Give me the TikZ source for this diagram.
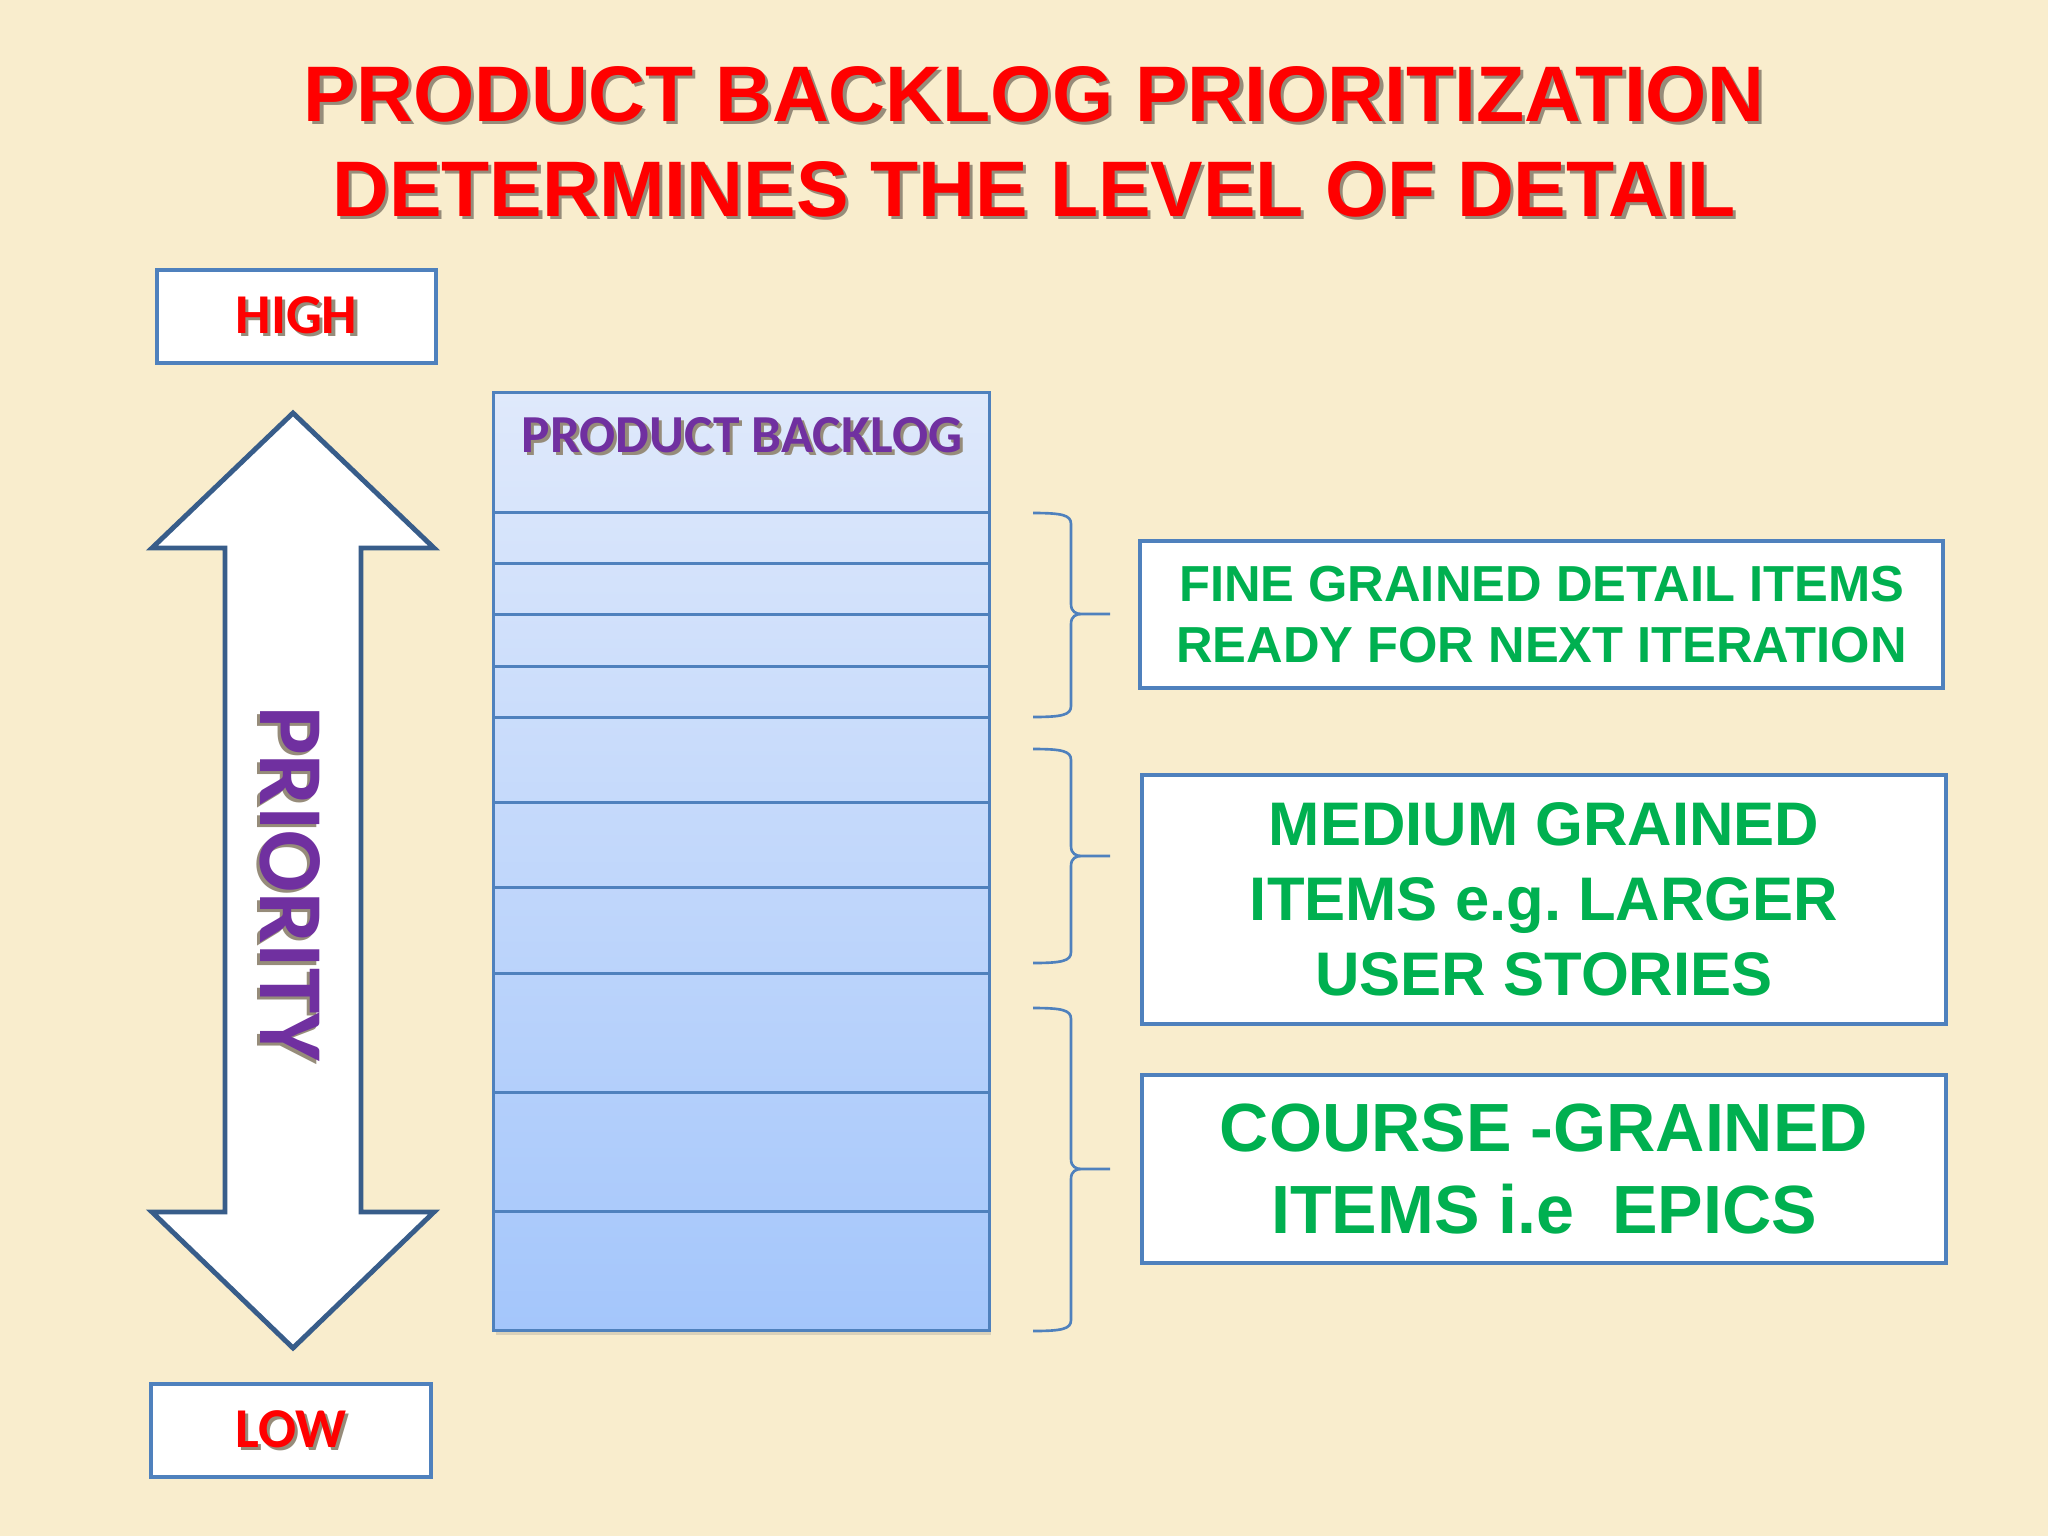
\documentclass[tikz,border=0pt]{standalone}
\usepackage{fontspec}
\setmainfont{Liberation Sans}
\newfontfamily\calibri{Carlito}
\usetikzlibrary{shadows}
\definecolor{paper}{RGB}{249,237,205}
\definecolor{boxblue}{RGB}{79,129,189}
\definecolor{arrowblue}{RGB}{56,93,138}
\definecolor{logtop}{RGB}{223,233,251}
\definecolor{logbot}{RGB}{164,198,251}
\definecolor{ttlred}{RGB}{255,0,0}
\definecolor{prpl}{RGB}{112,48,160}
\definecolor{grn}{RGB}{0,176,80}
\definecolor{shadecol}{RGB}{150,140,122}
\newcommand{\shad}[1]{\rlap{\raisebox{-0.9pt}{\hspace{0.9pt}\textcolor{shadecol}{#1}}}#1}
\tikzset{
  title/.style={text=ttlred, font=\bfseries\fontsize{22.4}{27}\selectfont, align=center, inner sep=0pt},
  tag/.style={draw=boxblue, line width=1.1pt, fill=white, minimum width=2.79cm, minimum height=0.93cm,
    inner sep=0pt, text=ttlred, font=\calibri\bfseries\fontsize{16}{19}\selectfont},
  updown/.style={draw=arrowblue, line width=1.4pt, fill=white, line join=miter},
  prio/.style={text=prpl, inner sep=0pt, font=\calibri\bfseries\fontsize{26}{31}\selectfont},
  backlog/.style={draw=boxblue, line width=0.85pt, top color=logtop, bottom color=logbot,
    minimum width=4.95cm, minimum height=9.37cm, inner sep=0pt,
    drop shadow={opacity=0.25, shadow xshift=0.6pt, shadow yshift=-1.2pt}},
  hdr/.style={text=prpl, inner sep=0pt, font=\calibri\bfseries\fontsize{15.2}{18}\selectfont},
  row/.style={draw=boxblue, line width=0.85pt},
  brace/.style={draw=boxblue, line width=0.75pt},
  item/.style={draw=boxblue, line width=1.1pt, fill=white, text=grn, align=center, inner sep=0pt}
}
\begin{document}
\begin{tikzpicture}[x=0.01cm, y=-0.01cm]
  \fill[paper] (0,0) rectangle (2048,1536);
  \node[title] (ttl) at (1034,143.5) {\shad{PRODUCT BACKLOG PRIORITIZATION}\\\shad{DETERMINES THE LEVEL OF DETAIL}};

  \node[tag] (high) at (296.5,316.5) {\shad{HIGH}};
  \node[tag] (low) at (291,1430.5) {\shad{LOW}};
  \draw[updown] (293,413) -- (434,548) -- (361,548) -- (361,1212) -- (434,1212) -- (293,1348)
    -- (152,1212) -- (225,1212) -- (225,548) -- (152,548) -- cycle;
  \node[prio, rotate=-90] (prio) at (289,883.5) {\shad{PRIORITY}};

  \node[backlog] (log) at (741.5,861.5) {};
  \foreach \y in {512,563,614,666,717,802,887,973,1092,1211}
    \draw[row] (log.west |- 0,\y) -- (log.east |- 0,\y);
  \node[hdr] (hdr) at (742,436.5) {\shad{PRODUCT BACKLOG}};

  \foreach \t/\m/\b in {513/614/717, 749/856/963, 1008/1169/1331}
    \draw[brace] (1033,\t) .. controls (1062,\t) and (1071,\t+2) .. (1071,\t+11) -- (1071,\m-10)
      .. controls (1071,\m-2) and (1076,\m) .. (1082,\m) -- (1110,\m)
      (1110,\m) -- (1082,\m) .. controls (1076,\m) and (1071,\m+2) .. (1071,\m+10) -- (1071,\b-11)
      .. controls (1071,\b-2) and (1062,\b) .. (1033,\b);

  \node[item, minimum width=8.03cm, minimum height=1.47cm, font=\bfseries\fontsize{14.4}{17.4}\selectfont]
    (fine) at (1541.5,614.5) {FINE GRAINED DETAIL ITEMS\\READY FOR NEXT ITERATION};
  \node[item, minimum width=8.04cm, minimum height=2.49cm, font=\bfseries\fontsize{17.5}{21.3}\selectfont]
    (medium) at (1544,899.5) {MEDIUM GRAINED\\ITEMS e.g.\ LARGER\\USER STORIES};
  \node[item, minimum width=8.04cm, minimum height=1.88cm, font=\bfseries\fontsize{19.4}{23.3}\selectfont]
    (coarse) at (1544,1169) {COURSE -GRAINED\\ITEMS i.e\ \ EPICS};
\end{tikzpicture}
\end{document}
